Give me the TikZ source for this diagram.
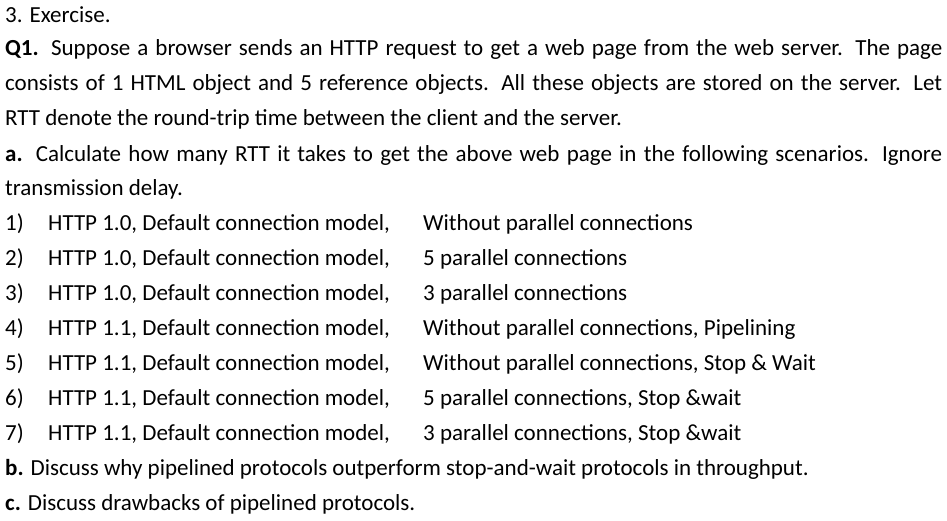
\documentclass[tikz,border=0pt]{standalone}
\usepackage{fontspec}
\setmainfont{Carlito}
\begin{document}
\begin{tikzpicture}[x=1pt,y=1pt,t/.style={anchor=west,inner sep=0pt,font=\fontsize{23}{27}\selectfont}]
\useasboundingbox (0,0) rectangle (947,-520);
\node[t] (l0) at (5,-15) {3. Exercise.};
\node[t] (l1) at (5,-49) {\makebox[937pt][s]{\textbf{Q1.} Suppose a browser sends an HTTP request to get a web page from the web server. The page}};
\node[t] (l2) at (5,-84) {\makebox[937pt][s]{consists of 1 HTML object and 5 reference objects. All these objects are stored on the server. Let}};
\node[t] (l3) at (5,-119) {RTT denote the round-trip time between the client and the server.};
\node[t] (l4) at (5,-155) {\makebox[937pt][s]{\textbf{a.} Calculate how many RTT it takes to get the above web page in the following scenarios. Ignore}};
\node[t] (l5) at (5,-189) {transmission delay.};
\foreach \n/\v/\m/\r in {1/1.0/224/Without parallel connections,2/1.0/259/5 parallel connections,3/1.0/294/3 parallel connections,4/1.1/329/{Without parallel connections, Pipelining},5/1.1/364/{Without parallel connections, Stop \& Wait},6/1.1/399/{5 parallel connections, Stop \&wait},7/1.1/434/{3 parallel connections, Stop \&wait}}{
  \node[t] (n\n) at (5,-\m) {\n)};
  \node[t] (h\n) at (48,-\m) {HTTP \v, Default connection model,};
  \node[t] (r\n) at (423,-\m) {\r};
}
\node[t] (lb) at (5,-469) {\textbf{b.} Discuss why pipelined protocols outperform stop-and-wait protocols in throughput.};
\node[t] (lc) at (5,-504) {\textbf{c.} Discuss drawbacks of pipelined protocols.};
\end{tikzpicture}
\end{document}
